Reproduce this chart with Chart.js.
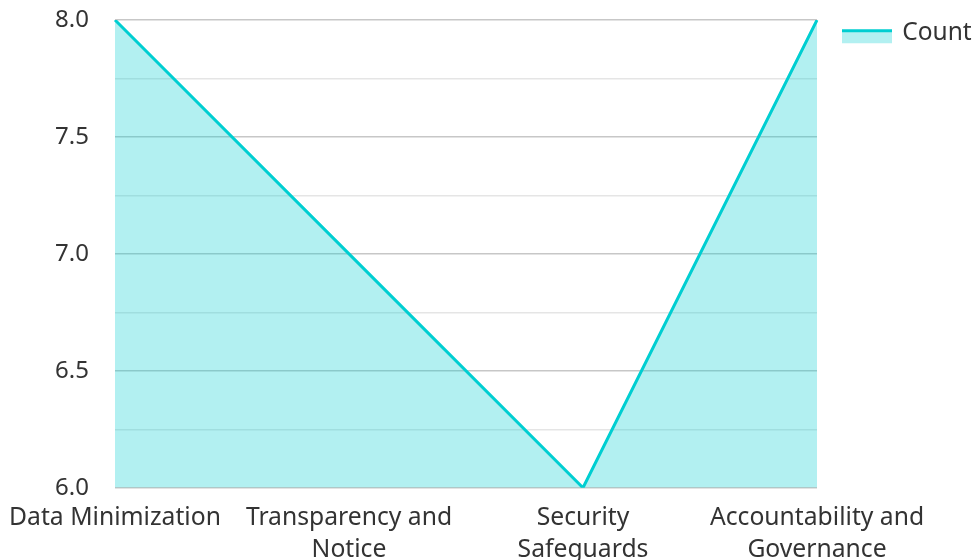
<!DOCTYPE html>
<html>
<head>
<meta charset="utf-8">
<script src="https://cdn.jsdelivr.net/npm/chart.js@4"></script>
<style>
  html, body { margin: 0; padding: 0; background: #fff; }
  #wrap { width: 975px; height: 560px; }
</style>
</head>
<body>
<div id="wrap"><canvas id="chart"></canvas></div>
<script>
// Chart data
const categories = [
  'Data Minimization',
  ['Transparency and', 'Notice'],
  ['Security', 'Safeguards'],
  ['Accountability and', 'Governance']
];
const counts = [8, 7, 6, 8];
const seriesName = 'Count';
const yMin = 6;
const yMax = 8;

const lineColor = '#00CED1';
const fillColor = 'rgba(0, 206, 209, 0.3)';

// legend swatch: thick line on top of a light fill, sitting a bit low
function makeSwatch() {
  const c = document.createElement('canvas');
  c.width = 50;
  c.height = 24;
  const g = c.getContext('2d');
  g.fillStyle = fillColor;
  g.fillRect(0, 8, 50, 14);
  g.fillStyle = lineColor;
  g.fillRect(0, 8, 50, 3);
  return c;
}

Chart.defaults.font.family = '"Noto Sans", "Open Sans", sans-serif';
Chart.defaults.font.size = 24;
Chart.defaults.color = '#333';

const ctx = document.getElementById('chart').getContext('2d');
new Chart(ctx, {
  type: 'line',
  data: {
    labels: categories,
    datasets: [{
      label: seriesName,
      data: counts,
      borderColor: lineColor,
      backgroundColor: fillColor,
      borderWidth: 3,
      fill: 'start',
      tension: 0,
      pointRadius: 0
    }]
  },
  options: {
    responsive: true,
    maintainAspectRatio: false,
    animation: false,
    layout: { padding: { top: -6, left: 10, right: 0, bottom: -12 } },
    plugins: {
      legend: {
        position: 'right',
        align: 'start',
        maxWidth: 158,
        labels: {
          usePointStyle: true,
          pointStyle: makeSwatch(),
          pointStyleWidth: 46,
          padding: 27,
          font: { size: 24.5 }
        }
      },
      tooltip: { enabled: false }
    },
    scales: {
      x: {
        grid: { display: false },
        border: { display: false },
        ticks: {
          maxRotation: 0,
          autoSkip: false,
          padding: 6,
          font: { size: 24.7, lineHeight: 1.3 }
        }
      },
      y: {
        min: yMin,
        max: yMax,
        border: { display: false },
        afterFit: scale => { scale.width = 105; },
        grid: {
          color: c => (Math.round(c.tick.value * 4) % 2 === 0 ? 'rgba(0,0,0,0.22)' : 'rgba(0,0,0,0.1)'),
          lineWidth: 1.5,
          tickLength: 26,
          tickColor: 'rgba(0,0,0,0)'
        },
        ticks: {
          stepSize: 0.25,
          padding: 0,
          callback: v => (Math.round(v * 4) % 2 === 0 ? v.toFixed(1) : ''),
          font: { size: 24, lineHeight: 1.67 }
        }
      }
    }
  }
});
</script>
</body>
</html>
